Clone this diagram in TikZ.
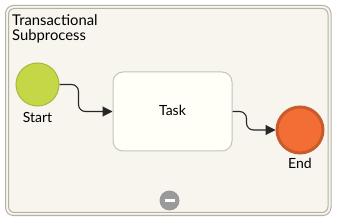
\documentclass[tikz,border=0pt]{standalone}
\usepackage{fontspec}
\setmainfont{Lato}
\usetikzlibrary{arrows.meta}
\definecolor{bgfill}{HTML}{F7F5EE}
\definecolor{bordergray}{HTML}{B5B2AA}
\definecolor{startfill}{HTML}{C5D646}
\definecolor{startdraw}{HTML}{A9B83C}
\definecolor{endfill}{HTML}{F26E35}
\definecolor{enddraw}{HTML}{C95A2B}
\definecolor{taskfill}{HTML}{FFFFF8}
\definecolor{taskdraw}{HTML}{C4C3BC}
\definecolor{markgray}{HTML}{9A9A9A}
\tikzset{
  lbl/.style={font=\fontsize{14}{15}\selectfont, text=black, inner sep=0pt},
  flow/.style={draw=black!85, line width=1.1pt, rounded corners=7pt, -{Triangle[length=10pt,width=10pt]}},
}
\begin{document}
\begin{tikzpicture}[x=1pt,y=-1pt]
\useasboundingbox (0,0) rectangle (338,222);
\draw[bordergray, line width=1pt, fill=bgfill, rounded corners=8pt] (5.5,5.5) rectangle (331,215.5);
\draw[bordergray, line width=1pt, rounded corners=6pt] (8.5,8.5) rectangle (328,212.5);
\node[lbl, font=\fontsize{14.8}{15}\selectfont, anchor=north west, align=left] (title) at (12,14.5) {Transactional\\Subprocess};
\node[circle, draw=startdraw, fill=startfill, line width=1pt, minimum size=43pt, inner sep=0pt] (start) at (37.5,84.5) {};
\node[lbl, anchor=base] (startl) at (37.5,122.5) {Start};
\node[draw=taskdraw, fill=taskfill, line width=1pt, rounded corners=10pt, minimum width=119pt, minimum height=79pt, inner sep=0pt] (task) at (172.5,111.5) {};
\node[lbl, anchor=base] (taskl) at (172.5,116) {Task};
\node[circle, draw=enddraw, fill=endfill, line width=3pt, minimum size=46pt, inner sep=0pt] (end) at (300,130) {};
\node[lbl, anchor=base] (endl) at (300,168) {End};
\node[circle, fill=markgray, minimum size=20pt, inner sep=0pt] (mark) at (169.5,200.5) {};
\draw[white, line width=2.5pt] ([xshift=-5pt]mark.center) -- ([xshift=5pt]mark.center);
\draw[flow] (start.east) -- ++(19,0) |- (task.west);
\draw[flow] (task.east) -- ++(14,0) |- (end.west);
\end{tikzpicture}
\end{document}
